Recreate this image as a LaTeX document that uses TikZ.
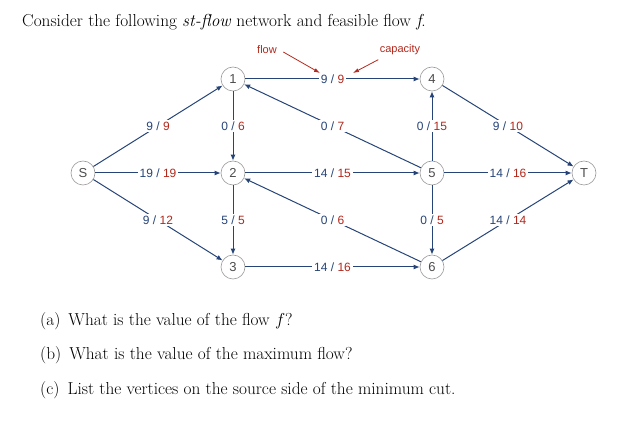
\documentclass[tikz,border=0pt]{standalone}
\usepackage{fontspec}
\newfontfamily\labfont{Liberation Sans}
\usetikzlibrary{arrows.meta}
\definecolor{fb}{RGB}{38,68,120}
\definecolor{cr}{RGB}{178,40,28}
\newcommand{\fl}[2]{\textcolor{fb}{#1 / }\textcolor{cr}{#2}}
\begin{document}
\begin{tikzpicture}[x=1pt,y=-1pt,
  v/.style={circle,draw=gray!80,semithick,minimum size=24pt,inner sep=0pt,font=\labfont\fontsize{13}{13}\selectfont,text=black!70},
  e/.style={draw=fb,line width=1pt,-{Latex[length=6pt,width=5pt]}},
  lb/.style={fill=white,inner sep=2pt,font=\labfont\fontsize{12}{12}\selectfont},
  ann/.style={draw=cr,line width=0.8pt,-{Latex[length=6pt,width=4pt]}}]
\useasboundingbox (0,0) rectangle (622,430);
\node[anchor=west,font=\fontsize{17.3}{20}\selectfont,inner sep=0pt] (title) at (22,22) {Consider the following \emph{st-flow} network and feasible flow \emph{f}.};
\node[v] (S) at (83,173) {S};
\node[v] (1) at (233,79) {1};
\node[v] (2) at (233,173) {2};
\node[v] (3) at (233,267) {3};
\node[v] (4) at (432,79) {4};
\node[v] (5) at (432,173) {5};
\node[v] (6) at (432,267) {6};
\node[v] (T) at (584,173) {T};
\draw[e] (S) -- node[lb]{\fl{9}{9}} (1);
\draw[e] (S) -- node[lb]{\fl{19}{19}} (2);
\draw[e] (S) -- node[lb]{\fl{9}{12}} (3);
\draw[e] (1) -- node[lb]{\fl{0}{6}} (2);
\draw[e] (2) -- node[lb]{\fl{5}{5}} (3);
\draw[e] (1) -- node[lb] (f14) {\fl{9}{9}} (4);
\draw[e] (5) -- node[lb]{\fl{0}{7}} (1);
\draw[e] (2) -- node[lb]{\fl{14}{15}} (5);
\draw[e] (6) -- node[lb]{\fl{0}{6}} (2);
\draw[e] (3) -- node[lb]{\fl{14}{16}} (6);
\draw[e] (5) -- node[lb]{\fl{0}{15}} (4);
\draw[e] (5) -- node[lb]{\fl{0}{5}} (6);
\draw[e] (4) -- node[lb]{\fl{9}{10}} (T);
\draw[e] (5) -- node[lb]{\fl{14}{16}} (T);
\draw[e] (6) -- node[lb]{\fl{14}{14}} (T);
\node[text=cr,font=\labfont\fontsize{11}{11}\selectfont] (flow) at (267,50) {flow};
\node[text=cr,font=\labfont\fontsize{11}{11}\selectfont] (cap) at (400,50) {capacity};
\coordinate (fa) at (320,73);
\coordinate (ca) at (353,73);
\draw[ann] (flow.east) ++(3,2) -- (fa);
\draw[ann] (cap.south west) ++(2,1) -- (ca);
\begin{scope}[every node/.style={anchor=west,inner sep=0pt,font=\fontsize{17.3}{20}\selectfont}]
\node (qa) at (40,321) {(a)\, What is the value of the flow $f$?};
\node (qb) at (40,355) {(b)\, What is the value of the maximum flow?};
\node (qc) at (40,390) {(c)\, List the vertices on the source side of the minimum cut.};
\end{scope}
\end{tikzpicture}
\end{document}
